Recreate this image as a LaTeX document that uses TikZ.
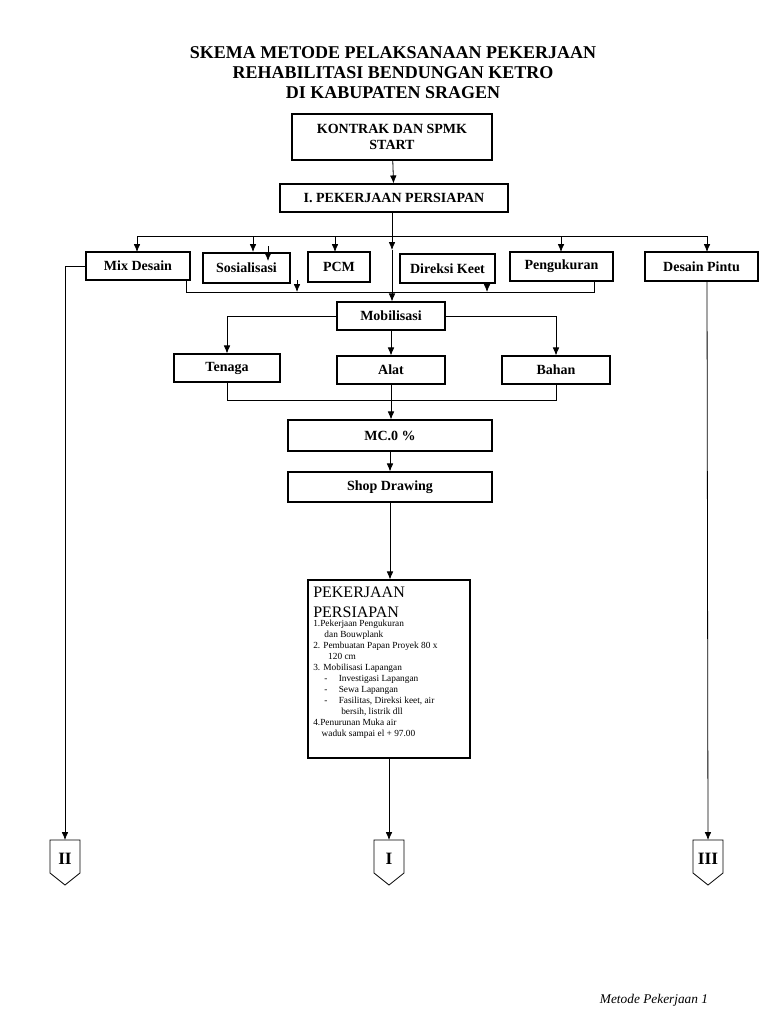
\documentclass[tikz,border=0pt]{standalone}
\usepackage{fontspec}
\setmainfont{Liberation Serif}
\usetikzlibrary{arrows.meta,shapes.geometric}
\begin{document}
\begin{tikzpicture}[x=0.75pt,y=-0.75pt,
  box/.style={draw,thick,font=\fontsize{10.5}{12}\selectfont\bfseries,align=center,inner sep=0pt},
  sz/.style 2 args={minimum width=0.75*#1,minimum height=0.75*#2},
  arr/.style={-{Latex[length=6pt,width=5pt]}},
  ln/.style={line width=0.6pt}]
\useasboundingbox (0,0) rectangle (768,1024);
% title
\node[font=\fontsize{13.5}{15}\selectfont\bfseries,align=center] (title) at (393,73)
  {SKEMA METODE PELAKSANAAN PEKERJAAN\\REHABILITASI BENDUNGAN KETRO\\DI KABUPATEN SRAGEN};
% boxes
\node[box,sz={200}{46}] (kon) at (392,137) {KONTRAK DAN SPMK\\START};
\node[box,sz={228}{28}] (pp) at (394,198) {I. PEKERJAAN PERSIAPAN};
\node[box,sz={104}{28}] (mix) at (138,266) {Mix Desain};
\node[box,sz={87}{30}] (sos) at (246.5,268) {Sosialisasi};
\node[box,sz={62}{30}] (pcm) at (339,267) {PCM};
\node[box,sz={95}{29}] (dir) at (447.5,268.5) {Direksi Keet};
\node[box,sz={103}{29}] (pen) at (561.5,266.5) {Pengukuran};
\node[box,sz={113}{29}] (des) at (701.5,266.5) {Desain Pintu};
\node[box,sz={108}{28}] (mob) at (391,316) {Mobilisasi};
\node[box,sz={106}{28}] (ten) at (227,368) {Tenaga};
\node[box,sz={108}{28}] (alat) at (391,370) {Alat};
\node[box,sz={108}{28}] (bah) at (556,370) {Bahan};
\node[box,sz={204}{31}] (mc) at (390,435.5) {MC.0 \%};
\node[box,sz={204}{30}] (shop) at (390,487) {Shop Drawing};
\node[draw,thick,sz={162}{178},inner sep=0pt] (pek) at (389,669) {};
\node[anchor=north west,align=left,inner sep=0pt,font=\fontsize{12}{14.5}\selectfont] (pekhd) at (313,587)
  {PEKERJAAN\\PERSIAPAN};
\node[anchor=north west,align=left,inner sep=0pt,font=\fontsize{7}{8.2}\selectfont] (pektxt) at (313,620)
  {1.Pekerjaan Pengukuran\\
   \hspace*{1.2em}dan Bouwplank\\
   2. Pembuatan Papan Proyek 80 x\\
   \hspace*{1.6em}120 cm\\
   3. Mobilisasi Lapangan\\
   \hspace*{1.2em}-\hspace*{1.2em}Investigasi Lapangan\\
   \hspace*{1.2em}-\hspace*{1.2em}Sewa Lapangan\\
   \hspace*{1.2em}-\hspace*{1.2em}Fasilitas, Direksi keet, air\\
   \hspace*{3em}bersih, listrik dll\\
   4.Penurunan Muka air\\
   \hspace*{0.9em}waduk sampai el + 97.00};
% tags
\foreach \n/\x/\t in {tII/65/II,tI/389/I,tIII/708/III}{
  \coordinate (\n) at (\x,840);
  \draw[ln] ({\x-15},840) -- ({\x+15},840) -- ({\x+15},873) -- (\x,885) -- ({\x-15},873) -- cycle;
  \node[font=\fontsize{13}{14}\selectfont\bfseries] at (\x,859) {\t};
}
% connectors
\draw[ln,arr] (kon) -- (pp);
\draw[ln] (137,236) -- (707,236);
\coordinate (bus) at (392,236);
\draw[ln] (pp.south -| bus) -- (bus);
\draw[ln,arr] (bus) -- (392,250);
\draw[ln,arr] (392,250) -- (mob.north -| bus);
\foreach \x in {137,253,335,561,707}
  \draw[ln,arr] (\x,236) -- (\x,252);
\draw[ln,arr] (268,246) -- (268,261);
\draw[ln] (186,280) -- (186,292) -- (594,292) -- (594,281);
\draw[ln,arr] (297,280) -- (297,292);
\draw[ln,arr] (487,282) -- (487,292);
\draw[ln,arr] (mix.west) -- (65,266) -- (tII);
\draw[ln,arr] (707,281) -- (tIII);
\draw[ln,arr] (mob.west) -| (ten.north);
\draw[ln,arr] (mob.east) -| (bah.north);
\draw[ln,arr] (mob) -- (alat);
\draw[ln] (ten.south) -- (227,400) -- (556,400) -- (bah.south);
\draw[ln,arr] (alat.south) -- (mc.north -| alat.south);
\draw[ln,arr] (mc) -- (shop);
\draw[ln,arr] (shop.south) -- (pek.north -| shop.south);
\draw[ln,arr] (pek.south) -- (tI);
% footer
\node[font=\fontsize{10}{12}\selectfont\itshape] (foot) at (654,1000) {Metode Pekerjaan 1};
\end{tikzpicture}
\end{document}
